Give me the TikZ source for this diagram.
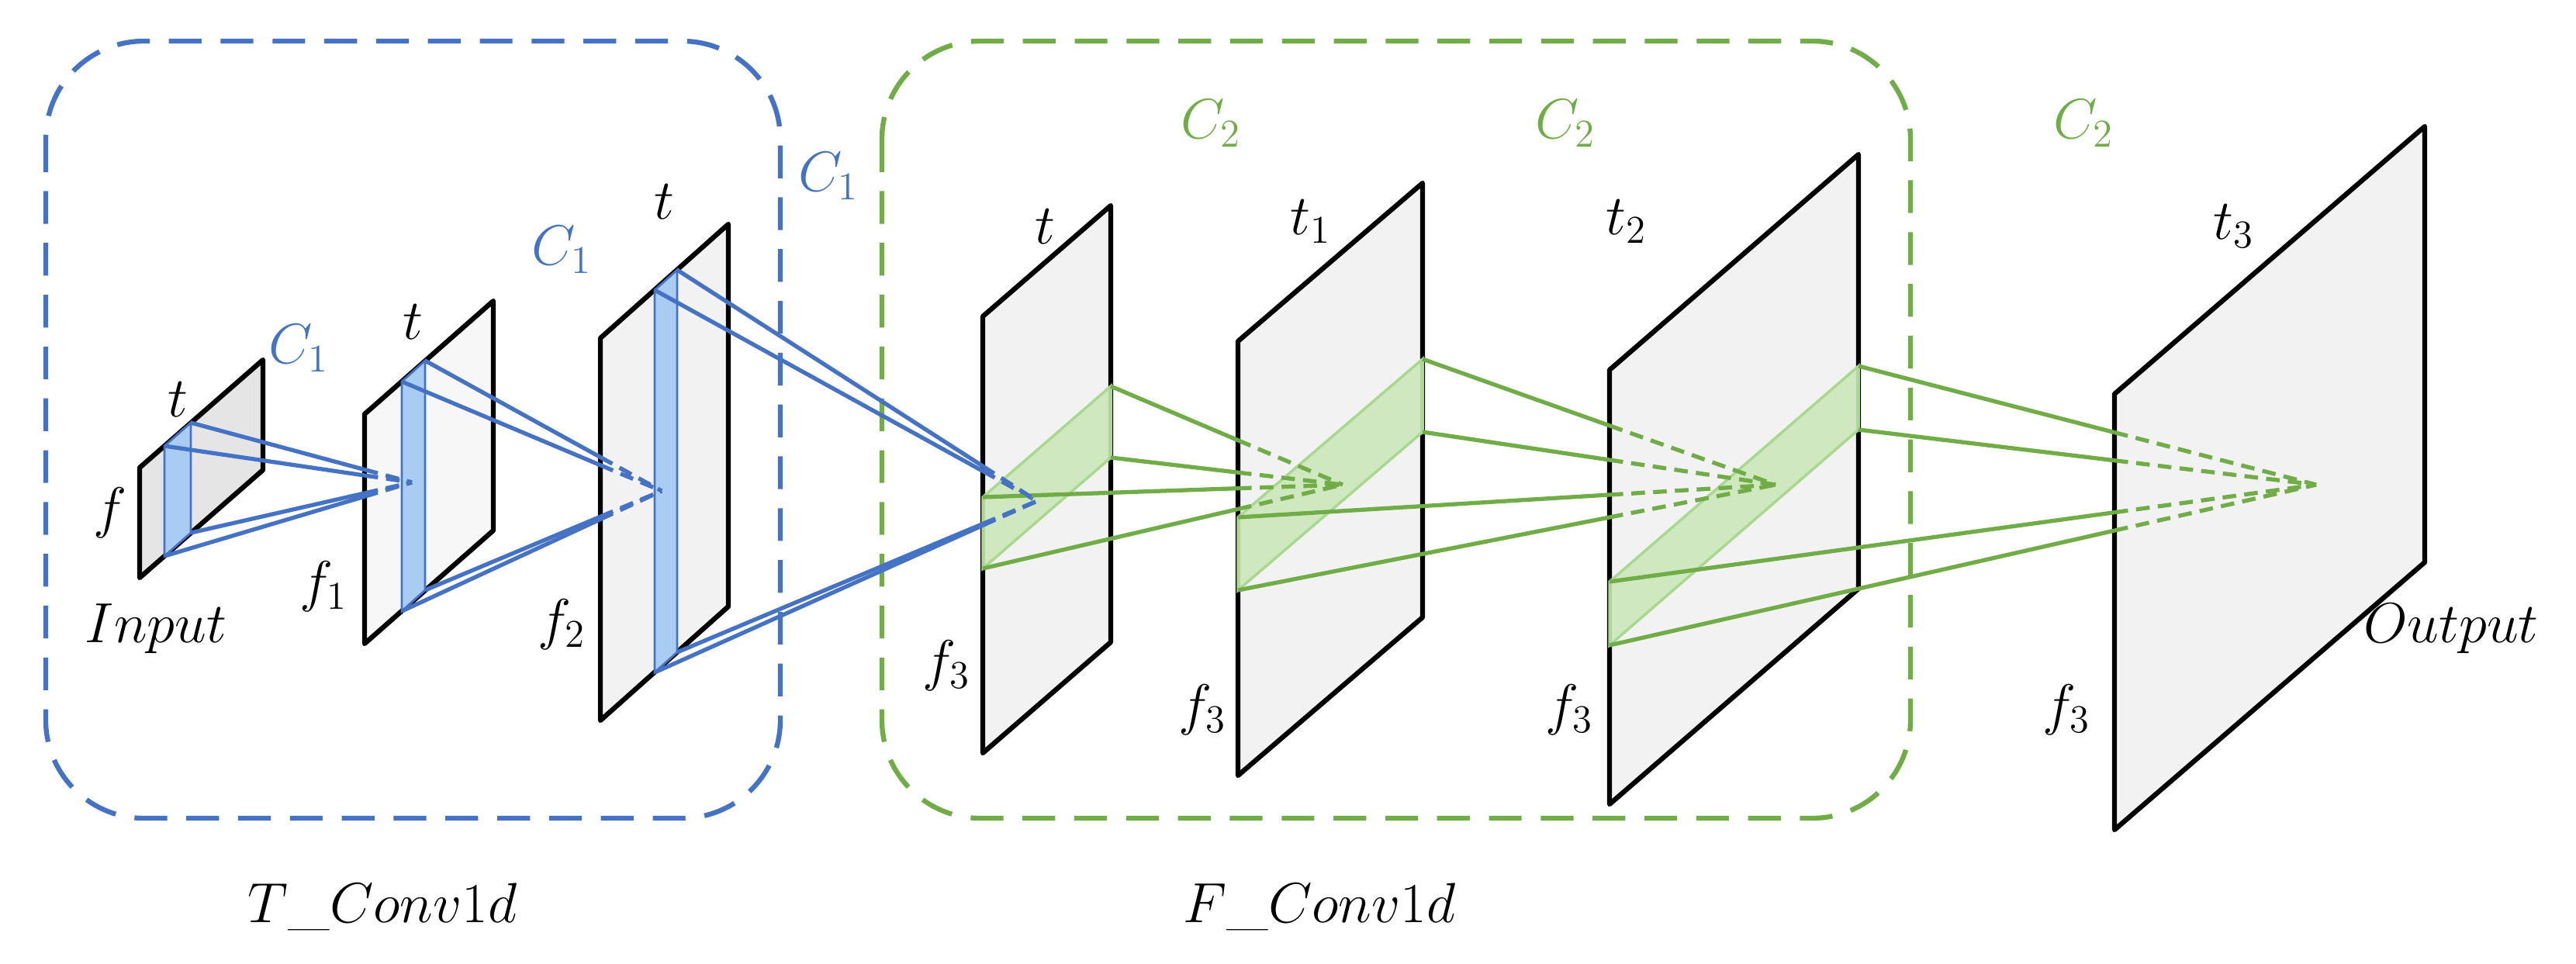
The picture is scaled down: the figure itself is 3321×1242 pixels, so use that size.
\documentclass[tikz,border=0pt]{standalone}
\usetikzlibrary{intersections,calc}
\definecolor{cblue}{HTML}{4472C4}
\definecolor{cgreen}{HTML}{70AD47}
\definecolor{sblue}{HTML}{A9CDF2}
\definecolor{sgreen}{HTML}{CDE8BA}
\definecolor{bgreen}{HTML}{A9D98E}
\tikzset{
  lbl/.style={font=\fontsize{22}{26}\selectfont, inner sep=0pt},
  plane/.style={draw=black, line width=1.8pt, line join=round},
  box/.style={line width=1.8pt, dash pattern=on 12pt off 7pt, rounded corners=36pt},
  conn/.style={line width=1.5pt},
  hid/.style={line width=1.5pt, dash pattern=on 5pt off 3pt}
}
% plane: name, front x, front top y, front bottom y, dx, dy, fill
\newcommand\plane[7]{%
  \coordinate (#1a) at (#2,#3);
  \coordinate (#1b) at (#2,#4);
  \coordinate (#1c) at ($(#1a)+(#5,#6)$);
  \coordinate (#1d) at ($(#1b)+(#5,#6)$);
  \filldraw[plane, fill=#7] (#1a) -- (#1c) -- (#1d) -- (#1b) -- cycle;
  \path[name path=#1e] ($(#1a)+(0,-400)$) -- ($(#1b)+(0,400)$);
}
% link: from, apex, front edge path, colour
\newcommand\lnk[4]{%
  \path[name path=tmpl] (#1) -- (#2);
  \draw[conn, #4, name intersections={of=tmpl and #3, by=ix}] (#1) -- (ix);
  \draw[hid, #4] (ix) -- (#2);
}
\begin{document}
\begin{tikzpicture}[x=0.01cm, y=-0.01cm]
\useasboundingbox (0,0) rectangle (3321,1242);

% dashed groups
\draw[box, cblue] (59,53) rectangle (1006,1055);
\draw[box, cgreen] (1137,53) rectangle (2463,1055);

% planes
\plane{p0}{180}{603}{745}{159}{-139}{black!10}
\plane{p1}{470}{534}{830}{166}{-146}{black!3}
\plane{p2}{774}{436}{929}{165}{-147}{black!5}
\plane{p3}{1267}{408}{971}{165}{-143}{black!5}
\plane{p4}{1596}{440}{1000}{238}{-204}{black!5}
\plane{p5}{2075}{477}{1037}{321}{-278}{black!5}
\plane{p6}{2726}{508}{1070}{400}{-345}{black!5}

% blue strips
\coordinate (s0a) at (212,575); \coordinate (s0b) at (246,545);
\coordinate (s0c) at (246,687); \coordinate (s0d) at (212,717);
\coordinate (s1a) at (518,492); \coordinate (s1b) at (548,465);
\coordinate (s1c) at (548,761); \coordinate (s1d) at (518,788);
\coordinate (s2a) at (844,374); \coordinate (s2b) at (873,348);
\coordinate (s2c) at (873,841); \coordinate (s2d) at (844,867);
\foreach \s in {s0,s1,s2}
  \filldraw[fill=sblue, draw=cblue, line width=0.8pt] (\s a) -- (\s b) -- (\s c) -- (\s d) -- cycle;

% green bands
\coordinate (g3a) at (1267,641); \coordinate (g3b) at (1432,498);
\coordinate (g3c) at (1432,590); \coordinate (g3d) at (1267,733);
\coordinate (g4a) at (1596,667); \coordinate (g4b) at (1834,463);
\coordinate (g4c) at (1834,557); \coordinate (g4d) at (1596,761);
\coordinate (g5a) at (2075,750); \coordinate (g5b) at (2396,472);
\coordinate (g5c) at (2396,554); \coordinate (g5d) at (2075,832);
\foreach \g in {g3,g4,g5}
  \filldraw[fill=sgreen, draw=bgreen, line width=1pt, fill opacity=0.9] (\g a) -- (\g b) -- (\g c) -- (\g d) -- cycle;

% apexes
\coordinate (x1) at (531,622);
\coordinate (x2) at (853,633);
\coordinate (x3) at (1337,646);
\coordinate (x4) at (1731,625);
\coordinate (x5) at (2289,625);
\coordinate (x6) at (2986,625);

% connectors
\foreach \c in {a,b,c,d} {
  \lnk{s0\c}{x1}{p1e}{cblue}
  \lnk{s1\c}{x2}{p2e}{cblue}
  \lnk{s2\c}{x3}{p3e}{cblue}
  \lnk{g3\c}{x4}{p4e}{cgreen}
  \lnk{g4\c}{x5}{p5e}{cgreen}
  \lnk{g5\c}{x6}{p6e}{cgreen}
}

% labels
\node[lbl] (l0f) at (142,661) {$f$};
\node[lbl] (l0t) at (229,515) {$t$};
\node[lbl] (lin) at (201,811) {$Input$};
\node[lbl, cblue] (c1a) at (385,449) {$C_1$};
\node[lbl, cblue] (c1b) at (724,322) {$C_1$};
\node[lbl, cblue] (c1c) at (1068,227) {$C_1$};
\node[lbl] (l1f) at (417,756) {$f_1$};
\node[lbl] (l1t) at (532,415) {$t$};
\node[lbl] (l2f) at (724,805) {$f_2$};
\node[lbl] (l2t) at (856,260) {$t$};
\node[lbl] (l3f) at (1220,858) {$f_3$};
\node[lbl] (l3t) at (1347,292) {$t$};
\node[lbl] (l4f) at (1550,915) {$f_3$};
\node[lbl] (l4t) at (1690,286) {$t_1$};
\node[lbl] (l5f) at (2023,915) {$f_3$};
\node[lbl] (l5t) at (2097,286) {$t_2$};
\node[lbl] (l6f) at (2664,915) {$f_3$};
\node[lbl] (l6t) at (2880,292) {$t_3$};
\node[lbl] (lout) at (3160,811) {$Output$};
\node[lbl, cgreen] (c2a) at (1561,159) {$C_2$};
\node[lbl, cgreen] (c2b) at (2018,159) {$C_2$};
\node[lbl, cgreen] (c2c) at (2686,159) {$C_2$};
\node[lbl] (tc) at (493,1169) {$T\_Conv1d$};
\node[lbl] (fc) at (1701,1169) {$F\_Conv1d$};
\end{tikzpicture}
\end{document}
